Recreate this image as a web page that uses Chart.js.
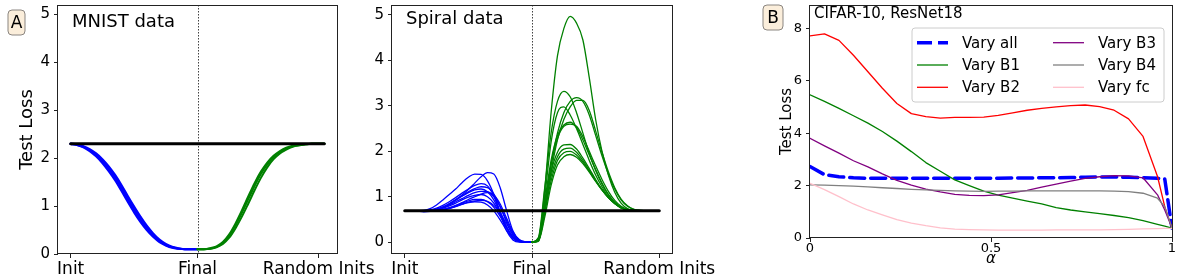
<!DOCTYPE html>
<html><head><meta charset="utf-8">
<script src="https://cdn.jsdelivr.net/npm/chart.js@4.4.1/dist/chart.umd.min.js"></script>
<style>
html,body{margin:0;padding:0;background:#fff;width:1178px;height:276px;overflow:hidden;position:relative}
canvas{position:absolute;top:0}
</style></head><body>
<canvas id="cA" width="390" height="276" style="left:0px;width:390px;height:276px"></canvas>
<canvas id="cS" width="390" height="276" style="left:345px;width:390px;height:276px"></canvas>
<canvas id="cB" width="418" height="276" style="left:760px;width:418px;height:276px"></canvas>
<script>
// ---------- shared x positions (path parameter) ----------
const xsFirst  = [0,0.05,0.1,0.15,0.2,0.25,0.3,0.35,0.4,0.45,0.5,0.55,0.6,0.65,0.7,0.75,0.8,0.85,0.9,0.95,1];
const xsSecond = [1,1.05,1.1,1.15,1.2,1.25,1.3,1.35,1.4,1.45,1.5,1.55,1.6,1.65,1.7,1.75,1.8,1.85,1.9,1.95,2];
const baseX = [0, 2];
const pathTickLabels = ['Init', 'Final', 'Random Inits'];
const mnistTicks = [0, 1, 1.955];
const spiralTicks = [0, 1, 2];
const mnistYTicks = [0,1,2,3,4,5];
const spiralYTicks = [0,1,2,3,4,5];

// ---------- MNIST ----------
const mnistBlue = [
  [2.30,2.28,2.24,2.17,2.07,1.94,1.78,1.60,1.38,1.15,0.93,0.72,0.54,0.39,0.27,0.19,0.14,0.11,0.10,0.10,0.10],
  [2.30,2.28,2.23,2.15,2.04,1.90,1.73,1.54,1.32,1.09,0.87,0.67,0.50,0.36,0.25,0.18,0.13,0.11,0.10,0.10,0.10],
  [2.30,2.29,2.25,2.19,2.10,1.98,1.83,1.65,1.44,1.21,0.99,0.78,0.59,0.43,0.30,0.21,0.15,0.12,0.10,0.10,0.10]
];
const mnistGreen = [
  [0.10,0.10,0.11,0.15,0.23,0.38,0.60,0.86,1.14,1.42,1.67,1.87,2.02,2.13,2.20,2.25,2.27,2.29,2.30,2.30,2.30],
  [0.10,0.10,0.11,0.14,0.21,0.34,0.54,0.78,1.05,1.33,1.59,1.81,1.98,2.10,2.18,2.24,2.27,2.29,2.30,2.30,2.30],
  [0.10,0.10,0.12,0.16,0.25,0.41,0.64,0.91,1.20,1.48,1.72,1.91,2.05,2.15,2.22,2.26,2.28,2.29,2.30,2.30,2.30]
];
const mnistBaseline = [2.30, 2.30];

// ---------- Spiral ----------
const spiralBlue = [
  [.69,.69,.69,.69,.70,.73,.78,.85,.94,1.04,1.16,1.30,1.44,1.53,1.50,1.20,.70,.25,.04,0,0],
  [.69,.69,.69,.70,.74,.82,.93,1.05,1.17,1.31,1.43,1.50,1.49,1.35,1.05,.62,.25,.05,0,0,0],
  [.69,.69,.69,.69,.71,.75,.81,.89,.98,1.08,1.17,1.25,1.29,1.24,1.02,.68,.33,.10,.01,0,0],
  [.69,.69,.68,.68,.69,.72,.77,.84,.93,1.02,1.11,1.18,1.22,1.20,1.06,.78,.44,.16,.03,0,0],
  [.69,.69,.68,.67,.68,.71,.76,.83,.92,1.01,1.09,1.15,1.17,1.11,.93,.64,.33,.11,.02,0,0],
  [.69,.69,.69,.69,.70,.72,.76,.82,.89,.96,1.03,1.09,1.12,1.11,1.00,.78,.48,.20,.05,.01,0],
  [.69,.69,.69,.69,.70,.72,.75,.80,.86,.93,.99,1.03,1.05,1.00,.86,.62,.34,.12,.02,0,0],
  [.69,.69,.69,.69,.69,.70,.72,.75,.80,.86,.91,.94,.94,.89,.77,.57,.32,.12,.02,0,0],
  [.69,.69,.68,.68,.68,.69,.71,.74,.78,.83,.88,.91,.92,.90,.81,.64,.40,.17,.04,0,0],
  [.69,.69,.69,.69,.69,.70,.72,.75,.79,.84,.87,.89,.88,.82,.69,.49,.26,.08,.01,0,0],
  [.69,.69,.69,.69,.69,.70,.72,.76,.81,.87,.94,1.00,1.06,1.09,1.04,.84,.53,.23,.06,.01,0]
];
const spiralGreen = [
  [0,0.08,1.15,2.85,4.10,4.70,4.97,4.82,4.45,3.62,2.70,2.00,1.48,1.10,0.86,0.74,0.70,0.69,0.69,0.69,0.69],
  [0,0.10,1.20,2.40,3.10,3.32,3.20,2.85,2.40,1.95,1.58,1.28,1.04,0.87,0.76,0.71,0.69,0.69,0.69,0.69,0.69],
  [0,0.06,1.00,2.20,2.85,2.98,2.80,2.50,2.15,1.80,1.48,1.22,1.00,0.85,0.75,0.71,0.69,0.69,0.69,0.69,0.69],
  [0,0.04,0.75,1.70,2.40,2.85,3.10,3.18,3.10,2.80,2.35,1.90,1.50,1.17,0.93,0.79,0.72,0.70,0.69,0.69,0.69],
  [0,0.03,0.65,1.55,2.25,2.70,2.98,3.12,3.12,2.90,2.45,1.98,1.55,1.20,0.95,0.80,0.72,0.70,0.69,0.69,0.69],
  [0,0.05,0.90,1.80,2.35,2.58,2.64,2.52,2.25,1.92,1.60,1.30,1.05,0.88,0.77,0.72,0.70,0.69,0.69,0.69,0.69],
  [0,0.04,0.80,1.70,2.28,2.55,2.60,2.55,2.32,2.00,1.68,1.38,1.12,0.92,0.79,0.72,0.70,0.69,0.69,0.69,0.69],
  [0,0.05,0.85,1.55,1.98,2.14,2.15,2.05,1.85,1.62,1.38,1.16,0.98,0.85,0.76,0.71,0.69,0.69,0.69,0.69,0.69],
  [0,0.04,0.75,1.45,1.88,2.05,2.07,1.98,1.80,1.58,1.36,1.15,0.98,0.85,0.76,0.71,0.69,0.69,0.69,0.69,0.69],
  [0,0.03,0.65,1.35,1.80,1.97,2.00,1.92,1.76,1.56,1.35,1.15,0.98,0.85,0.76,0.71,0.70,0.69,0.69,0.69,0.69],
  [0,0.02,0.55,1.25,1.70,1.88,1.93,1.87,1.73,1.54,1.34,1.15,0.99,0.86,0.77,0.72,0.70,0.69,0.69,0.69,0.69]
];
const spiralBaseline = [0.69, 0.69];

// ---------- CIFAR-10 ResNet18 ----------
const alpha   = [0,0.04,0.08,0.12,0.16,0.20,0.24,0.28,0.32,0.36,0.40,0.44,0.48,0.52,0.56,0.60,0.64,0.68,0.72,0.76,0.80,0.84,0.88,0.92,0.96,0.98,1.00];
const varyAll = [2.73,2.42,2.34,2.30,2.28,2.28,2.28,2.28,2.28,2.28,2.28,2.28,2.28,2.28,2.29,2.29,2.30,2.30,2.31,2.32,2.33,2.33,2.32,2.30,2.28,2.25,0.38];
const varyB1  = [5.47,5.22,4.95,4.67,4.39,4.07,3.70,3.30,2.88,2.55,2.22,2.00,1.79,1.64,1.52,1.41,1.30,1.16,1.07,1.00,0.93,0.86,0.78,0.66,0.52,0.45,0.38];
const varyB2  = [7.72,7.80,7.55,6.98,6.35,5.72,5.14,4.75,4.64,4.58,4.61,4.61,4.62,4.68,4.78,4.88,4.95,5.01,5.06,5.08,5.02,4.88,4.55,3.88,2.35,1.20,0.37];
const varyB3  = [3.81,3.52,3.24,2.95,2.72,2.45,2.20,2.02,1.87,1.76,1.67,1.63,1.62,1.65,1.73,1.82,1.94,2.06,2.17,2.28,2.34,2.38,2.37,2.30,1.65,1.07,0.38];
const varyB4  = [2.03,2.02,2.00,1.98,1.95,1.92,1.89,1.86,1.84,1.82,1.80,1.79,1.78,1.79,1.79,1.80,1.80,1.80,1.80,1.80,1.80,1.79,1.77,1.71,1.52,1.20,0.38];
const varyFc  = [2.09,1.85,1.58,1.30,1.07,0.88,0.70,0.57,0.47,0.39,0.34,0.32,0.31,0.30,0.30,0.30,0.30,0.31,0.31,0.31,0.31,0.32,0.33,0.35,0.36,0.37,0.37];
const cifarSeriesNames = ['Vary all','Vary B1','Vary B2','Vary B3','Vary B4','Vary fc'];
const alphaTicks = [0, 0.5, 1];
const alphaTickLabels = ['0', '0.5', '1'];
const cifarYTicks = [0,2,4,6,8];

// ---------- helpers ----------
const FONT = "'DejaVu Sans', sans-serif";
Chart.defaults.font.family = FONT;
Chart.defaults.color = '#000';
const pts = (xs, ys) => xs.map((x, i) => ({x: x, y: ys[i]}));
const setTicks = vals => s => { s.ticks = vals.map(v => ({value: v})); };

const decor = {
  id: 'decor',
  beforeDatasetsDraw(chart, args, o) {
    if (o.vline === undefined) return;
    const {ctx, chartArea: a} = chart;
    const x = Math.round(chart.scales.x.getPixelForValue(o.vline)) + 0.5;
    ctx.save();
    ctx.strokeStyle = '#111'; ctx.lineWidth = 0.8; ctx.setLineDash([1.5, 1.5]);
    ctx.beginPath(); ctx.moveTo(x, a.top); ctx.lineTo(x, a.bottom); ctx.stroke();
    ctx.restore();
  },
  afterDatasetsDraw(chart, args, o) {
    const {ctx, chartArea: a} = chart;
    ctx.save();
    // frame
    ctx.strokeStyle = '#222'; ctx.lineWidth = 1; ctx.setLineDash([]);
    ctx.strokeRect(Math.round(a.left) - 0.5, Math.round(a.top) + 0.5,
                   Math.round(a.right - a.left) + 1, Math.round(a.bottom - a.top) - 1);
    // in-plot title
    if (o.title) {
      ctx.fillStyle = '#000';
      ctx.font = o.title.size + 'px ' + FONT;
      ctx.textAlign = 'left'; ctx.textBaseline = 'alphabetic';
      ctx.fillText(o.title.text, a.left + o.title.dx, o.title.y);
    }
    // panel letter box
    if (o.box) {
      const b = o.box, r = 4;
      ctx.beginPath();
      ctx.moveTo(b.x + r, b.y); ctx.lineTo(b.x + b.w - r, b.y);
      ctx.quadraticCurveTo(b.x + b.w, b.y, b.x + b.w, b.y + r);
      ctx.lineTo(b.x + b.w, b.y + b.h - r);
      ctx.quadraticCurveTo(b.x + b.w, b.y + b.h, b.x + b.w - r, b.y + b.h);
      ctx.lineTo(b.x + r, b.y + b.h);
      ctx.quadraticCurveTo(b.x, b.y + b.h, b.x, b.y + b.h - r);
      ctx.lineTo(b.x, b.y + r);
      ctx.quadraticCurveTo(b.x, b.y, b.x + r, b.y);
      ctx.closePath();
      ctx.fillStyle = '#fbeedb'; ctx.fill();
      ctx.strokeStyle = '#8a8580'; ctx.lineWidth = 1; ctx.stroke();
      ctx.fillStyle = '#000'; ctx.font = '17px ' + FONT;
      ctx.textAlign = 'center'; ctx.textBaseline = 'middle';
      ctx.fillText(b.text, b.x + b.w / 2, b.y + b.h / 2 + 1);
    }
    // legend (two columns of three)
    if (o.legend) {
      const L = o.legend;
      const bx = a.right - L.dxRight - L.w, by = a.top + L.dyTop;
      ctx.beginPath();
      const r = 3;
      ctx.moveTo(bx + r, by); ctx.lineTo(bx + L.w - r, by); ctx.quadraticCurveTo(bx + L.w, by, bx + L.w, by + r);
      ctx.lineTo(bx + L.w, by + L.h - r); ctx.quadraticCurveTo(bx + L.w, by + L.h, bx + L.w - r, by + L.h);
      ctx.lineTo(bx + r, by + L.h); ctx.quadraticCurveTo(bx, by + L.h, bx, by + L.h - r);
      ctx.lineTo(bx, by + r); ctx.quadraticCurveTo(bx, by, bx + r, by); ctx.closePath();
      ctx.fillStyle = 'rgba(255,255,255,0.85)'; ctx.fill();
      ctx.strokeStyle = '#cccccc'; ctx.lineWidth = 1; ctx.stroke();
      ctx.font = '15px ' + FONT; ctx.textAlign = 'left'; ctx.textBaseline = 'middle';
      chart.data.datasets.forEach((ds, i) => {
        const col = Math.floor(i / 3), row = i % 3;
        const hx = bx + L.colX[col], ty = by + L.rowY[row];
        ctx.save();
        ctx.strokeStyle = ds.borderColor; ctx.lineWidth = ds.borderWidth;
        ctx.setLineDash(ds.borderDash || []);
        ctx.beginPath(); ctx.moveTo(hx, ty); ctx.lineTo(hx + L.handle, ty); ctx.stroke();
        ctx.restore();
        ctx.fillStyle = '#000';
        ctx.fillText(ds.label, hx + L.textGap, ty + 1);
      });
    }
    ctx.restore();
  }
};

function pathScales(xTicks, yMin, yMax, yTicks, yW, withTitle) {
  return {
    x: {
      type: 'linear', min: -0.1, max: 2.1,
      afterBuildTicks: setTicks(xTicks),
      afterFit: s => { s.height = 22; s.paddingLeft = 0; s.paddingRight = 0; },
      ticks: { callback: (v, i) => pathTickLabels[i], font: {size: 17}, maxRotation: 0, minRotation: 0, autoSkip: false, padding: 1 },
      grid: { drawOnChartArea: false, tickLength: 4, color: '#222' },
      border: { display: false }
    },
    y: {
      type: 'linear', min: yMin, max: yMax,
      afterBuildTicks: setTicks(yTicks),
      afterFit: s => { s.width = yW; s.paddingTop = 0; s.paddingBottom = 0; },
      ticks: { callback: v => String(v), font: {size: 15}, padding: 4 },
      title: { display: withTitle, text: 'Test Loss', font: {size: 18}, padding: {top: 17, bottom: 0} },
      grid: { drawOnChartArea: false, tickLength: 4, color: '#222' },
      border: { display: false }
    }
  };
}

const common = {
  responsive: false, animation: false, devicePixelRatio: 1,
  elements: { point: { radius: 0 }, line: { cubicInterpolationMode: 'monotone', borderJoinStyle: 'round', borderCapStyle: 'round' } },
  events: []
};

// ---------- Panel A : MNIST ----------
const dsA = [];
dsA.push({ data: pts(baseX, mnistBaseline), borderColor: '#000', borderWidth: 3, order: 0 });
mnistBlue.forEach(v => dsA.push({ data: pts(xsFirst, v), borderColor: '#0000ff', borderWidth: 2.2, order: 3 }));
mnistGreen.forEach(v => dsA.push({ data: pts(xsSecond, v), borderColor: '#008000', borderWidth: 2, order: 2 }));
new Chart(document.getElementById('cA'), {
  type: 'line',
  data: { datasets: dsA },
  plugins: [decor],
  options: Object.assign({}, common, {
    layout: { padding: { left: 0, right: 53, top: 5, bottom: 0 } },
    plugins: {
      legend: { display: false }, tooltip: { enabled: false },
      decor: { vline: 1, title: { text: 'MNIST data', dx: 14, y: 27, size: 18 },
               box: { text: 'A', x: 8, y: 10, w: 17, h: 25 } }
    },
    scales: pathScales(mnistTicks, 0, 5.2, mnistYTicks, 58, true)
  })
});

// ---------- Panel : Spiral ----------
const dsS = [];
dsS.push({ data: pts(baseX, spiralBaseline), borderColor: '#000', borderWidth: 3, order: 0 });
spiralBlue.forEach(v => dsS.push({ data: pts(xsFirst, v), borderColor: '#0000ff', borderWidth: 1.3, order: 3 }));
spiralGreen.forEach(v => dsS.push({ data: pts(xsSecond, v), borderColor: '#008000', borderWidth: 1.3, order: 2 }));
new Chart(document.getElementById('cS'), {
  type: 'line',
  data: { datasets: dsS },
  plugins: [decor],
  options: Object.assign({}, common, {
    layout: { padding: { left: 0, right: 63, top: 5, bottom: 0 } },
    plugins: {
      legend: { display: false }, tooltip: { enabled: false },
      decor: { vline: 1, title: { text: 'Spiral data', dx: 14, y: 24, size: 18 } }
    },
    scales: pathScales(spiralTicks, -0.26, 5.22, spiralYTicks, 47, false)
  })
});

// ---------- Panel B : CIFAR-10 ----------
const cifarValues = [varyAll, varyB1, varyB2, varyB3, varyB4, varyFc];
const cifarColors = ['#0000ff', '#008000', '#ff0000', '#800080', '#808080', '#ffc0cb'];
const dsB = cifarValues.map((v, i) => ({
  label: cifarSeriesNames[i], data: pts(alpha, v),
  borderColor: cifarColors[i], borderWidth: i === 0 ? 3.5 : 1.3,
  borderDash: i === 0 ? [15, 6] : [], order: 10 - i,
  cubicInterpolationMode: 'default', tension: 0
}));
new Chart(document.getElementById('cB'), {
  type: 'line',
  data: { datasets: dsB },
  plugins: [decor],
  options: Object.assign({}, common, {
    layout: { padding: { left: 0, right: 6, top: 5, bottom: 0 } },
    plugins: {
      legend: { display: false }, tooltip: { enabled: false },
      decor: { title: { text: 'CIFAR-10, ResNet18', dx: 4, y: 18, size: 15 },
               box: { text: 'B', x: 3, y: 5, w: 20, h: 25 },
               legend: { w: 252, h: 74, dxRight: 8, dyTop: 23, colX: [5, 141], rowY: [14.7, 37, 59.3], handle: 31, textGap: 45 } }
    },
    scales: {
      x: {
        type: 'linear', min: 0, max: 1,
        afterBuildTicks: setTicks(alphaTicks),
        afterFit: s => { s.height = 38; s.paddingLeft = 0; s.paddingRight = 0; },
        ticks: { callback: (v, i) => alphaTickLabels[i], font: {size: 13}, maxRotation: 0, minRotation: 0, autoSkip: false, padding: -1 },
        title: { display: true, text: 'α', font: {size: 15, style: 'italic'}, padding: {top: 0, bottom: 8} },
        grid: { drawOnChartArea: false, tickLength: 4, color: '#222' },
        border: { display: false }
      },
      y: {
        type: 'linear', min: 0, max: 8.9,
        afterBuildTicks: setTicks(cifarYTicks),
        afterFit: s => { s.width = 50; s.paddingTop = 0; s.paddingBottom = 0; },
        ticks: { callback: v => String(v), font: {size: 13}, padding: 4 },
        title: { display: true, text: 'Test Loss', font: {size: 15}, padding: {top: 18, bottom: 0} },
        grid: { drawOnChartArea: false, tickLength: 4, color: '#222' },
        border: { display: false }
      }
    }
  })
});
</script>
</body></html>
